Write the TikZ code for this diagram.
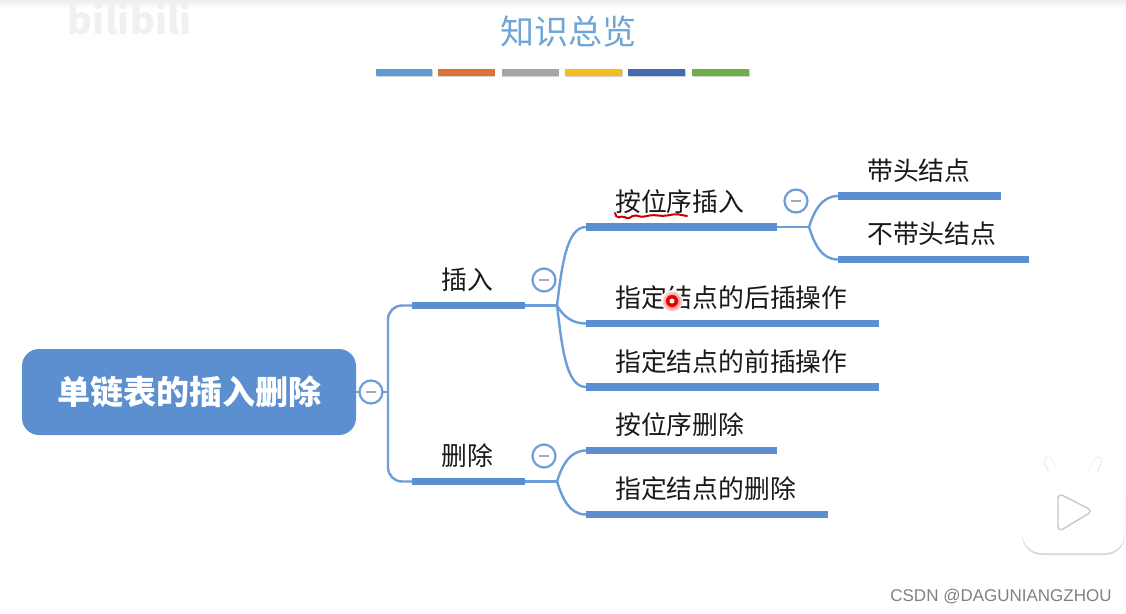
\documentclass[tikz,border=0pt]{standalone}
\usepackage{fontspec}
\setmainfont{Noto Sans CJK SC}
\newfontfamily\latinfont{Liberation Sans}
\usetikzlibrary{positioning,shadows}
\definecolor{mapblue}{HTML}{5B8FD0}
\definecolor{linkblue}{HTML}{6C9DD8}
\definecolor{titleblue}{HTML}{6FA6D6}
\definecolor{minusgray}{HTML}{A9A3C4}
\definecolor{keyone}{HTML}{5F9BD3}
\definecolor{keytwo}{HTML}{DB7339}
\definecolor{keythree}{HTML}{A5A5A5}
\definecolor{keyfour}{HTML}{F2BF1E}
\definecolor{keyfive}{HTML}{4569B3}
\definecolor{keysix}{HTML}{70AE4B}

\begin{document}
\begin{tikzpicture}[
	x=1pt, y=-1pt,
	node distance=5pt and 29pt,
	rootnode/.style = {
		rectangle, fill=mapblue, rounded corners=17pt, text=white,
		minimum width=334pt, minimum height=86pt, inner sep=0pt, outer sep=0pt,
		font=\fontsize{33}{36}\selectfont\bfseries},
	barnode/.style = {
		rectangle, fill=mapblue, anchor=west, minimum height=7.5pt,
		inner sep=0pt, outer sep=0pt},
	mylabel/.style = {
		inner sep=0pt, font=\fontsize{25.8}{30}\selectfont, text=black!90},
	foldnode/.style = {
		circle, draw=linkblue, line width=2.2pt, fill=white, minimum size=23pt,
		inner sep=0pt, path picture={
			\draw[minusgray, line width=2pt] ([xshift=-5pt]path picture bounding box.center)
				-- ([xshift=5pt]path picture bounding box.center);}},
	keybar/.style = {
		rectangle, minimum width=57pt, minimum height=6.5pt, inner sep=0pt,
		drop shadow={shadow xshift=0.5pt, shadow yshift=-1pt, opacity=0.35}},
	link/.style = {linkblue, line width=2.4pt, rounded corners=14pt}
]
\useasboundingbox (0,0) rectangle (1126,613);
\shade[top color=black!7, bottom color=white] (0,0) rectangle (1126,8);

% watermark
\node (mark) [font=\fontsize{38}{38}\selectfont\bfseries, text=black!6] at (130,19) {bilibili};

% title
\node (title) [font=\fontsize{34}{38}\selectfont, text=titleblue] at (568.5,32) {知识总览};
\node (k1) [keybar, fill=keyone, minimum width=56pt] at (404,72.5) {};
\node (k2) [keybar, fill=keytwo] at (466,72.5) {};
\node (k3) [keybar, fill=keythree] at (530,72.5) {};
\node (k4) [keybar, fill=keyfour] at (593.5,72.5) {};
\node (k5) [keybar, fill=keyfive] at (656.5,72.5) {};
\node (k6) [keybar, fill=keysix] at (720.5,72.5) {};

% map
\node (root) [rootnode] at (189,392) {\raisebox{-1pt}{单链表的插入删除}};

\node (n1) [barnode, minimum width=113pt] at (412,305.5) {};
\node (n2) [barnode, minimum width=113pt] at (412,481.5) {};
\node (n1a) [barnode, minimum width=191pt] at (586,227) {};
\node (n1b) [barnode, minimum width=293pt] at (586,323.5) {};
\node (n1c) [barnode, minimum width=293pt] at (586,387) {};
\node (n2a) [barnode, minimum width=191pt] at (586,450.5) {};
\node (n2b) [barnode, minimum width=242pt] at (586,514.5) {};
\node (n1a1) [barnode, minimum width=163pt] at (838,196) {};
\node (n1a2) [barnode, minimum width=191pt] at (838,259.5) {};

\node (t1) [mylabel, above right=9.5pt and 29pt of n1.north west] {插入};
\node (t2) [mylabel, above right=9.5pt and 29pt of n2.north west] {删除};
\node (t1a) [mylabel, above right=9.5pt and 29pt of n1a.north west] {按位序插入};
\node (t1b) [mylabel, above right=9.5pt and 29pt of n1b.north west] {指定结点的后插操作};
\node (t1c) [mylabel, above right=9.5pt and 29pt of n1c.north west] {指定结点的前插操作};
\node (t2a) [mylabel, above right=9.5pt and 29pt of n2a.north west] {按位序删除};
\node (t2b) [mylabel, above right=9.5pt and 29pt of n2b.north west] {指定结点的删除};
\node (t1a1) [mylabel, above right=9.5pt and 29pt of n1a1.north west] {带头结点};
\node (t1a2) [mylabel, above right=9.5pt and 29pt of n1a2.north west] {不带头结点};

\coordinate (j0) at (388,392);
\coordinate (j1) at (557,305.5);
\coordinate (j2) at (557,481.5);
\coordinate (j3) at (809,227);

\draw[link] (root.east |- j0) -- (j0);
\draw[link] (n1.west) -| (j0) |- (n2.west);

\draw[link] (n1.east) -- (j1);
\draw[link] (j1) to[out=83,in=180,out looseness=1.2,in looseness=0.6] (n1a.west);
\draw[link] (j1) to[out=-60,in=180] (n1b.west);
\draw[link] (j1) to[out=-83,in=180,out looseness=1.2,in looseness=0.6] (n1c.west);

\draw[link] (n2.east) -- (j2);
\draw[link] (j2) to[out=72,in=180] (n2a.west);
\draw[link] (j2) to[out=-72,in=180] (n2b.west);

\draw[link] (n1a.east) -- (j3);
\draw[link] (j3) to[out=72,in=180] (n1a1.west);
\draw[link] (j3) to[out=-72,in=180] (n1a2.west);

\node (f0) [foldnode] at (371,392) {};
\node (f1) [foldnode] at (544,280) {};
\node (f2) [foldnode] at (544,456) {};
\node (f3) [foldnode] at (796,201) {};

% pen mark and pointer
\draw[red!80!black, line width=2pt, line cap=round, rounded corners=2pt]
	(615,213) -- (617,218) -- (623,216) -- (628,219) -- (634,215) -- (642,217)
	-- (652,215) -- (664,216) -- (676,214) -- (687,216);
\shade[inner color=red!90!black, outer color=white] (672,301) circle (11);
\fill[red!90!black] (672,301) circle (6);
\fill[white] (672,301) circle (2.5);

% logo
\begin{scope}[line cap=round]
	\draw[line width=9pt, black!8] (1054,474) -- (1048,461);
	\draw[line width=9pt, black!8] (1092,474) -- (1098,461);
	\draw[line width=7pt, white] (1055,474) -- (1048,461);
	\draw[line width=7pt, white] (1091,474) -- (1098,461);
\end{scope}
\fill[white, rounded corners=20pt, drop shadow={shadow xshift=0pt, shadow yshift=-2pt, opacity=0.3}]
	(1022,471) rectangle (1125,553);
\draw[black!22, fill=white, line width=1.4pt, rounded corners=6pt]
	(1058,493) -- (1093,511) -- (1058,532) -- cycle;

\node (credit) [font=\fontsize{17}{20}\selectfont\latinfont, text=black!50] at (1001,596.5) {CSDN @DAGUNIANGZHOU};
\end{tikzpicture}
\end{document}
